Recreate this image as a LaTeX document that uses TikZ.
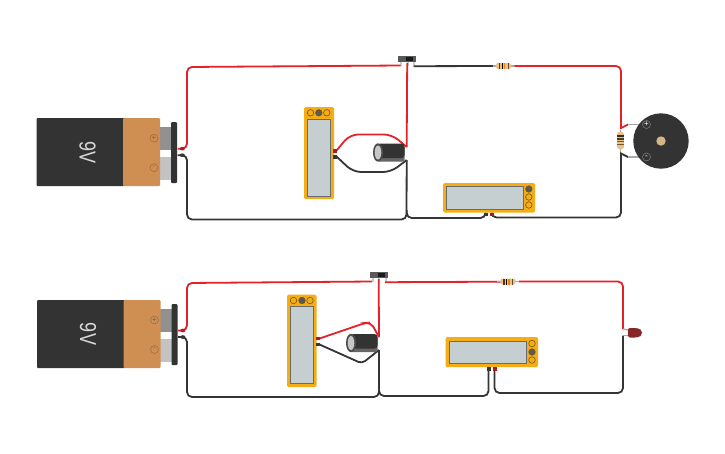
\documentclass[tikz,border=0pt]{standalone}
\usepackage{fontspec}
\setmainfont{Liberation Sans}
\definecolor{wred}{HTML}{E2232B}
\definecolor{wblk}{HTML}{333536}
\definecolor{dark}{HTML}{333333}
\definecolor{bator}{HTML}{D08F52}
\definecolor{mamber}{HTML}{F4AD16}
\definecolor{scr}{HTML}{C5CED1}
\definecolor{scrb}{HTML}{686B6A}
\definecolor{lead}{HTML}{A9A9A9}
\definecolor{tan}{HTML}{E6C389}
\tikzset{
 redw/.style={draw=wred,line width=1.8pt,rounded corners=5pt},
 blkw/.style={draw=wblk,line width=1.8pt,rounded corners=5pt},
 leadw/.style={draw=lead,line width=1.3pt},
 ico/.style={circle,draw=#1,line width=.6pt,minimum size=6.5pt,inner sep=0pt},
 ico/.default={black!50!mamber},
 sign/.style={circle,draw=#1,line width=.5pt,minimum size=8pt,inner sep=0pt,text=black!60,font=\fontsize{8}{8}\selectfont}
}
\newcommand{\battery}[3]{%
 \begin{scope}[shift={(#1,#2)}]
  \fill[lead!85!black] (123,9) rectangle (137,32);
  \fill[lead!70!white] (123,39) rectangle (137,62);
  \fill[dark,rounded corners=1pt] (0,0) rectangle (88,68);
  \fill[bator,rounded corners=1pt] (86.5,0) rectangle (123.5,68);
  \fill[dark,rounded corners=1pt] (134.5,4) rectangle (140.5,65);
  \node[text=black!15,rotate=-90,font=\fontsize{18}{18}\selectfont] (#3t) at (51,34) {\scalebox{1}[1.28]{9V}};
  \node[sign={black!25!bator}] (#3p) at (117.5,20) {+};
  \node[sign={black!25!bator}] (#3m) at (117.5,49.5) {-};
  \coordinate (#3plus) at (141,30.5);
  \coordinate (#3minus) at (141,37);
  \coordinate (#3nubp) at (145.8,30.5);
  \coordinate (#3nubm) at (145.8,37);
 \end{scope}}
\newcommand{\slideswitch}[3]{%
 \begin{scope}[shift={(#1,#2)}]
  \foreach \lx in {3,9.5,16} \fill[lead!60!white] (\lx-1,5) rectangle (\lx+1,10);
  \fill[black!65] (0,0) rectangle (18,6);
  \fill[black!90] (8,1) rectangle (15,5);
  \coordinate (#3a) at (2.5,9.5);
  \coordinate (#3b) at (9.2,7);
  \coordinate (#3c) at (15.5,10.2);
 \end{scope}}
\newcommand{\hres}[3]{%
 \begin{scope}[shift={(#1,#2)}]
  \draw[leadw] (-11,0) -- (11,0);
  \fill[tan,rounded corners=2pt] (-7.5,-3) rectangle (7.5,3);
  \fill[black!60!bator] (-5,-3) rectangle (-3.5,3);
  \fill[black] (-2,-3) rectangle (-.7,3);
  \fill[orange] (.3,-3) rectangle (1.6,3);
  \fill[black!50!bator] (4,-3) rectangle (5,3);
  \coordinate (#3l) at (-8,0);
  \coordinate (#3r) at (11,0);
 \end{scope}}
\newcommand{\mmbody}[8]{%
  \fill[mamber,rounded corners=1.5pt] (#1,#2) rectangle (#3,#4);
  \draw[scrb,fill=scr,line width=1pt] (#5,#6) rectangle (#7,#8);}
\newcommand{\capac}[3]{%
 \begin{scope}[shift={(#1,#2)}]
  \fill[black!60,rounded corners=2pt] (4,2) rectangle (31,18);
  \fill[dark,rounded corners=3pt] (4,0) rectangle (31,14.5);
  \fill[black!70] (4.5,9) ellipse (5pt and 9.2pt);
  \fill[black!22] (4.5,9) ellipse (3.3pt and 7pt);
  \coordinate (#3c) at (17,9);
 \end{scope}}
\begin{document}
\begin{tikzpicture}[x=1pt,y=-1pt]
\useasboundingbox[fill=white] (0,0) rectangle (725,453);

% ---------- upper circuit
\battery{36.5}{118.2}{batA}
\slideswitch{398}{56}{swA}
\coordinate (capAr) at (406.7,147);
\coordinate (capAb) at (406.7,160);
\coordinate (mA1r) at (336.5,150.5);
\coordinate (mA1b) at (336.5,156.5);
\coordinate (mA2b) at (485.5,212.5);
\coordinate (mA2r) at (491.5,212.5);
\coordinate (buzP) at (628,124.5);
\coordinate (buzM) at (628,157);
\coordinate (rAwl) at (497,66);
\coordinate (rBwl) at (501,281.7);

\draw[blkw] (swAc) -- (rAwl);
\hres{503.5}{66}{rA}

\draw[redw] (batAplus) -| (187,67) -- (swAa);
\draw[redw] (swAb) -- (capAr);
\draw[redw] (rAr) -- (621,66) -- (621,126);
\draw[redw,rounded corners=0pt] (621,120) -- (621,128) -- (buzP);
\draw[blkw] (batAminus) -| (187,219.5) -- (406.5,219.5) -- (capAb);
\draw[blkw] (406.7,210) -- (406.7,218) -- (485.5,218) -- (mA2b);
\draw[blkw] (mA2r) -- (491.5,217.5) -- (621,217.5) -- (621,160);
\draw[blkw,rounded corners=0pt] (621,165) -- (621,153.5) -- (buzM);
\draw[redw,rounded corners=8pt] (mA1r) -- (350,134.5) -- (392,134.5) -- (capAr);
\draw[blkw,rounded corners=8pt] (mA1b) -- (353,172) -- (391,172) -- (capAb);
\fill[wred!80!black] (batAnubp) ellipse (2.6pt and 1.8pt);
\fill[wblk] (batAnubm) ellipse (2.6pt and 1.8pt);

\capac{373.5}{143.5}{capA}
\mmbody{304}{107}{334}{199}{307.5}{119}{330.5}{196}
\node[ico] (mAa) at (310.5,112.8) {};
\node[ico,fill=black!65] (mAb) at (318.8,112.8) {};
\node[ico] (mAc) at (326.8,112.8) {};
\fill[wred!75!black] (333,149) rectangle (337,152.5);
\fill[wblk] (333,155) rectangle (337,158.5);
\mmbody{443}{183}{535}{212.5}{446}{186}{523}{209}
\node[ico,fill=black!65] (mBa) at (528.8,189) {};
\node[ico] (mBb) at (528.8,197) {};
\node[ico] (mBc) at (528.8,205) {};
\fill[wblk] (483.5,212.5) rectangle (487.5,216);
\fill[wred!75!black] (489.5,212.5) rectangle (493.5,216);

\draw[leadw] (buzP) -- (641,124.5);
\draw[leadw] (buzM) -- (641,157);
\fill[dark] (661,141) circle (27.7pt);
\fill[tan!80!gray] (661,141) circle (4.7pt);
\node[sign=black!50,text=white] (bzp) at (646.5,124.5) {+};
\node[sign=black!50,text=white] (bzm) at (646.5,157) {-};
\begin{scope}[shift={(620.5,140.5)},rotate=90]
 \draw[leadw] (-11,0) -- (11,0);
 \fill[tan,rounded corners=2pt] (-8.5,-3.3) rectangle (8.5,3.3);
 \fill[black!40!bator] (-4.5,-3.3) rectangle (-3,3.3);
 \fill[wred] (-1.5,-3.3) rectangle (0,3.3);
 \fill[black!60!bator] (1,-3.3) rectangle (2.5,3.3);
 \fill[black!70!bator] (4,-3.3) rectangle (5.5,3.3);
\end{scope}

% ---------- lower circuit
\battery{37}{300}{batB}
\slideswitch{369.5}{272}{swB}
\draw[redw] (swBc) -- (rBwl);
\hres{508}{281.5}{rB}
\coordinate (capBr) at (379,337);
\coordinate (capBb) at (379,350);
\coordinate (mC1r) at (319.5,338.5);
\coordinate (mC1b) at (319.5,344.5);
\coordinate (mD2b) at (488.5,367);
\coordinate (mD2r) at (494.5,367);
\coordinate (ledA) at (623,329);
\coordinate (ledK) at (623,335.5);

\draw[redw] (batBplus) -| (187,283) -- (372,281.5);
\draw[redw] (swBb) -- (capBr);
\draw[redw] (rBr) -- (623,281.5) -- (ledA);
\draw[blkw] (batBminus) -| (187,397) -- (379,397) -- (capBb);
\draw[blkw] (379,386) -- (379,396) -- (488.5,396) -- (mD2b);
\draw[blkw] (mD2r) -- (494.5,393) -- (623,393) -- (ledK);
\draw[redw,rounded corners=5pt] (mC1r) -- (365,323) -- (371,322.5) -- (capBr);
\draw[blkw,rounded corners=4pt] (mC1b) -- (362,363.5) -- (capBb);
\fill[wred!80!black] (batBnubp) ellipse (2.6pt and 1.8pt);
\fill[wblk] (batBnubm) ellipse (2.6pt and 1.8pt);

\capac{346.5}{334}{capB}
\mmbody{287}{294.5}{316.5}{387}{290.5}{306.5}{313}{383}
\node[ico] (mCa) at (293.5,300.5) {};
\node[ico,fill=black!65] (mCb) at (302,300.5) {};
\node[ico] (mCc) at (310,300.5) {};
\fill[wred!75!black] (316,336.5) rectangle (320,340);
\fill[wblk] (316,342.5) rectangle (320,346);
\mmbody{445.5}{337}{538}{367}{449}{341}{526}{363}
\node[ico] (mDa) at (532,343.5) {};
\node[ico,fill=black!65] (mDb) at (532,352) {};
\node[ico] (mDc) at (532,360) {};
\fill[wblk] (486.5,367) rectangle (490.5,370.5);
\fill[wred!75!black] (492.5,367) rectangle (496.5,370.5);

\draw[leadw] (ledA) -- (630,330.5);
\draw[leadw] (ledK) -- (630,335.5);
\fill[red!45!black!85!white,rounded corners=2pt] (628,328) rectangle (637,337.5);
\fill[red!45!black!85!white] (637,332.8) ellipse (5pt and 4.6pt);
\end{tikzpicture}
\end{document}
